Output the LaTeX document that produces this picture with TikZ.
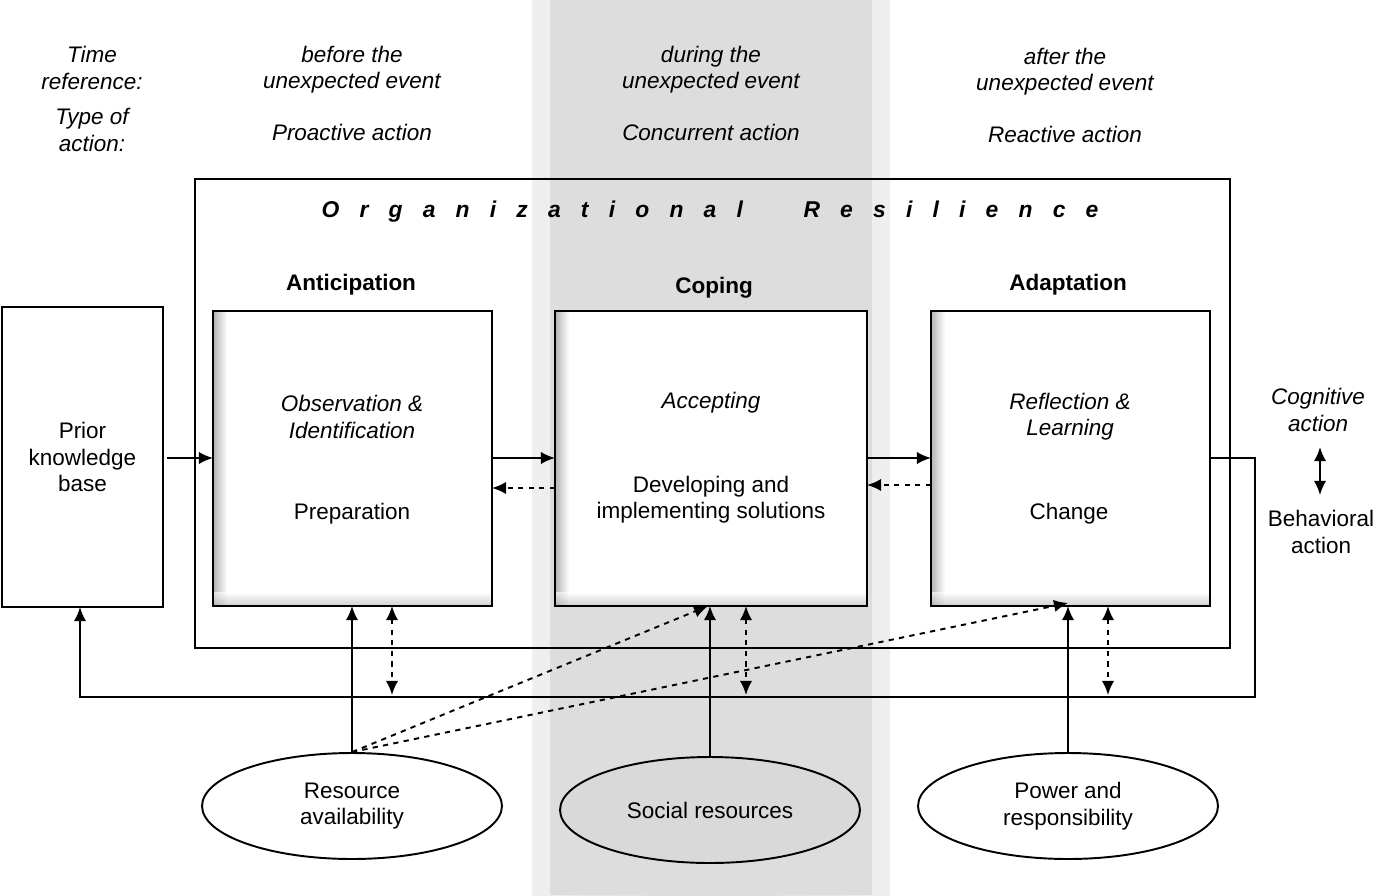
\documentclass[tikz,border=0pt]{standalone}
\usepackage{fontspec}
\setmainfont{Liberation Sans}
\usetikzlibrary{arrows.meta,shapes.geometric}
\def\sp{\hspace{11.5pt}}
\begin{document}
\begin{tikzpicture}[x=0.02cm,y=-0.02cm,
  thick/.style={line width=1.1pt},
  box/.style={draw,thick,fill=white,inner sep=0pt},
  lbl/.style={font=\fontsize{12.8}{15}\selectfont,align=center},
  ital/.style={font=\fontsize{12.8}{15}\selectfont\itshape,align=center},
  bold/.style={font=\fontsize{12.8}{15}\selectfont\bfseries},
  arr/.style={thick,-{Latex[length=8pt,width=7pt]}},
  darr/.style={thick,dashed,-{Latex[length=8pt,width=7pt]}},
  ddarr/.style={thick,dashed,{Latex[length=8pt,width=7pt]}-{Latex[length=8pt,width=7pt]}},
  ell/.style={draw,thick,ellipse,minimum width=6cm,minimum height=2.12cm,inner sep=0pt,lbl}]
\useasboundingbox (0,0) rectangle (1381,895);
% gray band
\fill[left color=gray!12,right color=gray!12,middle color=gray!30] (532,0) rectangle (890,895);
\fill[gray!27] (550,0) rectangle (872,895);
% top texts
\node[ital] (tr) at (92,68) {Time\\reference:};
\node[ital] (ta) at (92,130) {Type of\\action:};
\node[ital] (b1) at (352,70) {before the\\unexpected event};
\node[ital] (b2) at (711,70) {during the\\unexpected event};
\node[ital] (b3) at (1065,72) {after the\\unexpected event};
\node[ital] (p1) at (352,132) {Proactive action};
\node[ital] (p2) at (711,132) {Concurrent action};
\node[ital] (p3) at (1065,134) {Reactive action};
% frame
\draw[thick] (195,179) rectangle (1230,648);
\node[font=\fontsize{13}{15}\selectfont\bfseries\itshape] (or) at (710,212) {O\sp r\sp g\sp a\sp n\sp i\sp z\sp a\sp t\sp i\sp o\sp n\sp a\sp l\sp\sp\sp R\sp e\sp s\sp i\sp l\sp i\sp e\sp n\sp c\sp e};
% boxes
\node[box,minimum width=3.22cm,minimum height=6cm] (pk) at (82.5,457) {};
\node[lbl] at (pk) {Prior\\knowledge\\base};
\foreach \n/\xa/\xb in {an/213/492,co/555/867,ad/931/1210}{
  \fill[white] (\xa,311) rectangle (\xb,606);
  \shade[left color=gray!60,right color=white] (\xa,311) rectangle (\xa+14,606);
  \shade[bottom color=gray!60,top color=white,opacity=.6] (\xa,592) rectangle (\xb,606);
  \draw[thick] (\xa,311) rectangle (\xb,606);
  \coordinate (\n) at ({(\xa+\xb)/2},458);
}
\node[bold] (l1) at (351,285) {Anticipation};
\node[bold] (l2) at (714,288) {Coping};
\node[bold] (l3) at (1068,285) {Adaptation};
\node[ital] (t1) at (352,417) {Observation \&\\Identification};
\node[lbl] (t1b) at (352,514) {Preparation};
\node[ital] (t2) at (711,403) {Accepting};
\node[lbl] (t2b) at (711,500) {Developing and\\implementing solutions};
\node[ital] (t3) at (1070,417) {Reflection \&\\Learning};
\node[lbl] (t3b) at (1069,514) {Change};
% ellipses
\node[ell,fill=white] (e1) at (352,806) {Resource\\availability};
\node[ell,fill=gray!30] (e2) at (710,810) {Social resources};
\node[ell,fill=white] (e3) at (1068,806) {Power and\\responsibility};
% horizontal arrows
\draw[arr] (167,458) -- (213,458);
\draw[arr] (492,458) -- (555,458);
\draw[darr] (555,488) -- (492,488);
\draw[arr] (867,458) -- (931,458);
\draw[darr] (931,485) -- (867,485);
% feedback loop
\draw[arr] (1210,458) -- (1255,458) -- (1255,697) -- (80,697) -- (80,607);
% ellipse arrows
\draw[arr] (e1.north) -- (352,606);
\draw[arr] (e2.north) -- (710,606);
\draw[arr] (e3.north) -- (1068,606);
\draw[ddarr] (392,606) -- (392,695);
\draw[ddarr] (746,606) -- (746,695);
\draw[ddarr] (1108,606) -- (1108,695);
\draw[darr] (e1.north) -- (708,606);
\draw[darr] (e1.north) -- (1068,603);
% right legend
\node[ital] (ca) at (1318,410) {Cognitive\\action};
\node[lbl] (ba) at (1321,532) {Behavioral\\action};
\draw[thick,{Latex[length=8pt,width=7pt]}-{Latex[length=8pt,width=7pt]}] (1320,447) -- (1320,495);
\end{tikzpicture}
\end{document}
